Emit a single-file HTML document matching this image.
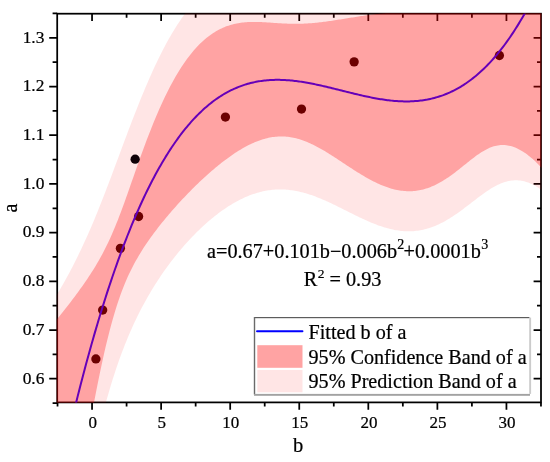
<!DOCTYPE html>
<html><head><meta charset="utf-8"><title>Fit</title>
<style>html,body{margin:0;padding:0;background:#fff;}body{width:550px;height:462px;overflow:hidden;}svg{display:block;}</style>
</head><body>
<svg width="550" height="462" viewBox="0 0 550 462"><defs><clipPath id="c"><rect x="56.70" y="13.30" width="484.70" height="389.50"/></clipPath><clipPath id="c2"><rect x="57.2" y="13.7" width="483.8" height="388.7"/></clipPath></defs><rect width="550" height="462" fill="#fff"/><path d="M92.05,13.7v7.4 M126.58,13.7v4 M161.12,13.7v7.4 M195.65,13.7v4 M230.18,13.7v7.4 M264.71,13.7v4 M299.25,13.7v7.4 M333.78,13.7v4 M368.31,13.7v7.4 M402.84,13.7v4 M437.38,13.7v7.4 M471.91,13.7v4 M506.44,13.7v7.4 M541.0,378.70h-7.4 M541.0,354.35h-4 M541.0,330.00h-7.4 M541.0,305.65h-4 M541.0,281.30h-7.4 M541.0,256.95h-4 M541.0,232.60h-7.4 M541.0,208.25h-4 M541.0,183.90h-7.4 M541.0,159.55h-4 M541.0,135.20h-7.4 M541.0,110.85h-4 M541.0,86.50h-7.4 M541.0,62.15h-4 M541.0,37.80h-7.4" stroke="#000" stroke-width="1.75" fill="none"/><path d="M57.52,402.4v4 M92.05,402.4v7.4 M126.58,402.4v4 M161.12,402.4v7.4 M195.65,402.4v4 M230.18,402.4v7.4 M264.71,402.4v4 M299.25,402.4v7.4 M333.78,402.4v4 M368.31,402.4v7.4 M402.84,402.4v4 M437.38,402.4v7.4 M471.91,402.4v4 M506.44,402.4v7.4 M540.97,402.4v4 M57.2,403.05h-4.6 M57.2,378.70h-8.0 M57.2,354.35h-4.6 M57.2,330.00h-8.0 M57.2,305.65h-4.6 M57.2,281.30h-8.0 M57.2,256.95h-4.6 M57.2,232.60h-8.0 M57.2,208.25h-4.6 M57.2,183.90h-8.0 M57.2,159.55h-4.6 M57.2,135.20h-8.0 M57.2,110.85h-4.6 M57.2,86.50h-8.0 M57.2,62.15h-4.6 M57.2,37.80h-8.0 M57.2,13.45h-4.6" stroke="#000" stroke-width="1.75" fill="none"/><rect x="57.2" y="13.7" width="483.8" height="388.7" fill="none" stroke="#000" stroke-width="1.75"/><g clip-path="url(#c)"><polygon points="55.67,296.69 57.05,294.40 58.43,292.08 59.81,289.73 61.20,287.35 62.58,284.94 63.96,282.50 65.34,280.03 66.72,277.53 68.11,274.99 69.49,272.42 70.87,269.81 72.25,267.16 73.63,264.48 75.02,261.76 76.40,259.00 77.78,256.20 79.16,253.36 80.54,250.48 81.93,247.56 83.31,244.60 84.69,241.59 86.07,238.54 87.45,235.46 88.84,232.32 90.22,229.15 91.60,225.93 92.98,222.68 94.36,219.38 95.75,216.04 97.13,212.67 98.51,209.25 99.89,205.81 101.27,202.32 102.66,198.81 104.04,195.26 105.42,191.69 106.80,188.09 108.18,184.46 109.57,180.82 110.95,177.15 112.33,173.47 113.71,169.78 115.09,166.08 116.48,162.36 117.86,158.65 119.24,154.93 120.62,151.21 122.00,147.50 123.39,143.79 124.77,140.09 126.15,136.41 127.53,132.73 128.91,129.08 130.30,125.45 131.68,121.83 133.06,118.24 134.44,114.68 135.82,111.15 137.21,107.65 138.59,104.18 139.97,100.74 141.35,97.34 142.73,93.98 144.12,90.65 145.50,87.37 146.88,84.13 148.26,80.93 149.64,77.77 151.03,74.66 152.41,71.59 153.79,68.57 155.17,65.60 156.55,62.68 157.94,59.80 159.32,56.98 160.70,54.20 162.08,51.47 163.46,48.79 164.85,46.17 166.23,43.59 167.61,41.06 168.99,38.59 170.37,36.17 171.76,33.79 173.14,31.47 174.52,29.20 175.90,26.98 177.28,24.82 178.67,22.70 180.05,20.63 181.43,18.62 182.81,16.65 184.19,14.73 185.58,12.87 186.96,11.05 188.34,9.28 189.72,7.56 191.10,5.89 192.49,4.26 193.87,2.68 195.25,1.15 196.63,-0.34 198.01,-1.78 199.40,-3.17 200.78,-4.52 202.16,-5.83 203.54,-7.09 204.92,-8.31 206.31,-9.49 207.69,-10.62 209.07,-11.72 210.45,-12.77 211.83,-13.79 213.22,-14.76 214.60,-15.70 215.98,-16.60 217.36,-17.46 218.74,-18.29 220.13,-19.08 221.51,-19.83 222.89,-20.55 224.27,-21.24 225.65,-21.89 227.04,-22.52 228.42,-23.11 229.80,-23.67 231.18,-24.20 232.56,-24.70 233.95,-25.17 235.33,-25.62 236.71,-26.04 238.09,-26.43 239.47,-26.80 240.86,-27.14 242.24,-27.46 243.62,-27.75 245.00,-28.03 246.38,-28.28 247.77,-28.51 249.15,-28.72 250.53,-28.91 251.91,-29.08 253.29,-29.24 254.68,-29.38 256.06,-29.50 257.44,-29.61 258.82,-29.70 260.20,-29.77 261.59,-29.84 262.97,-29.89 264.35,-29.93 265.73,-29.96 267.11,-29.97 268.50,-29.98 269.88,-29.98 271.26,-29.96 272.64,-29.94 274.02,-29.92 275.41,-29.88 276.79,-29.84 278.17,-29.80 279.55,-29.74 280.93,-29.69 282.32,-29.63 283.70,-29.56 285.08,-29.49 286.46,-29.42 287.84,-29.35 289.23,-29.27 290.61,-29.19 291.99,-29.12 293.37,-29.04 294.75,-28.96 296.14,-28.88 297.52,-28.80 298.90,-28.72 300.28,-28.64 301.66,-28.56 303.05,-28.49 304.43,-28.41 305.81,-28.34 307.19,-28.27 308.57,-28.20 309.96,-28.13 311.34,-28.07 312.72,-28.01 314.10,-27.95 315.48,-27.89 316.87,-27.83 318.25,-27.78 319.63,-27.74 321.01,-27.69 322.39,-27.65 323.78,-27.61 325.16,-27.57 326.54,-27.54 327.92,-27.51 329.30,-27.48 330.69,-27.45 332.07,-27.43 333.45,-27.41 334.83,-27.40 336.21,-27.38 337.60,-27.37 338.98,-27.36 340.36,-27.36 341.74,-27.35 343.12,-27.35 344.51,-27.35 345.89,-27.36 347.27,-27.36 348.65,-27.37 350.03,-27.38 351.42,-27.39 352.80,-27.40 354.18,-27.41 355.56,-27.43 356.94,-27.44 358.33,-27.46 359.71,-27.48 361.09,-27.50 362.47,-27.52 363.85,-27.54 365.24,-27.56 366.62,-27.58 368.00,-27.61 369.38,-27.63 370.76,-27.66 372.15,-27.68 373.53,-27.71 374.91,-27.73 376.29,-27.76 377.67,-27.78 379.06,-27.81 380.44,-27.84 381.82,-27.87 383.20,-27.89 384.58,-27.92 385.97,-27.95 387.35,-27.98 388.73,-28.01 390.11,-28.04 391.49,-28.07 392.88,-28.10 394.26,-28.13 395.64,-28.16 397.02,-28.19 398.40,-28.23 399.79,-28.26 401.17,-28.30 402.55,-28.34 403.93,-28.38 405.31,-28.42 406.70,-28.46 408.08,-28.51 409.46,-28.56 410.84,-28.61 412.22,-28.67 413.61,-28.72 414.99,-28.79 416.37,-28.85 417.75,-28.93 419.13,-29.00 420.52,-29.09 421.90,-29.18 423.28,-29.27 424.66,-29.38 426.04,-29.49 427.43,-29.61 428.81,-29.74 430.19,-29.87 431.57,-30.02 432.95,-30.18 434.34,-30.36 435.72,-30.54 437.10,-30.74 438.48,-30.96 439.86,-31.19 441.25,-31.43 442.63,-31.70 444.01,-31.98 445.39,-32.29 446.77,-32.62 448.16,-32.97 449.54,-33.34 450.92,-33.74 452.30,-34.17 453.68,-34.63 455.07,-35.11 456.45,-35.63 457.83,-36.19 459.21,-36.78 460.59,-37.41 461.98,-38.08 463.36,-38.80 464.74,-39.55 466.12,-40.36 467.50,-41.21 468.89,-42.12 470.27,-43.08 471.65,-44.10 473.03,-45.18 474.41,-46.32 475.80,-47.53 477.18,-48.80 478.56,-50.00 479.94,-50.00 481.32,-50.00 482.71,-50.00 484.09,-50.00 485.47,-50.00 486.85,-50.00 488.23,-50.00 489.62,-50.00 491.00,-50.00 492.38,-50.00 493.76,-50.00 495.14,-50.00 496.53,-50.00 497.91,-50.00 499.29,-50.00 500.67,-50.00 502.05,-50.00 503.44,-50.00 504.82,-50.00 506.20,-50.00 507.58,-50.00 508.96,-50.00 510.35,-50.00 511.73,-50.00 513.11,-50.00 514.49,-50.00 515.87,-50.00 517.26,-50.00 518.64,-50.00 520.02,-50.00 521.40,-50.00 522.78,-50.00 524.17,-50.00 525.55,-50.00 526.93,-50.00 528.31,-50.00 529.69,-50.00 531.08,-50.00 532.46,-50.00 533.84,-50.00 535.22,-50.00 536.60,-50.00 537.99,-50.00 539.37,-50.00 540.75,-50.00 542.13,-50.00 542.13,190.42 540.75,189.40 539.37,188.44 537.99,187.52 536.60,186.66 535.22,185.85 533.84,185.09 532.46,184.39 531.08,183.74 529.69,183.15 528.31,182.61 526.93,182.13 525.55,181.70 524.17,181.33 522.78,181.02 521.40,180.76 520.02,180.56 518.64,180.42 517.26,180.33 515.87,180.30 514.49,180.33 513.11,180.42 511.73,180.56 510.35,180.75 508.96,181.00 507.58,181.30 506.20,181.66 504.82,182.06 503.44,182.52 502.05,183.02 500.67,183.58 499.29,184.17 497.91,184.82 496.53,185.50 495.14,186.22 493.76,186.99 492.38,187.79 491.00,188.62 489.62,189.48 488.23,190.38 486.85,191.30 485.47,192.25 484.09,193.22 482.71,194.21 481.32,195.21 479.94,196.24 478.56,197.27 477.18,198.32 475.80,199.38 474.41,200.44 473.03,201.50 471.65,202.57 470.27,203.64 468.89,204.71 467.50,205.77 466.12,206.82 464.74,207.87 463.36,208.91 461.98,209.94 460.59,210.95 459.21,211.95 457.83,212.94 456.45,213.90 455.07,214.85 453.68,215.78 452.30,216.69 450.92,217.58 449.54,218.44 448.16,219.28 446.77,220.10 445.39,220.89 444.01,221.65 442.63,222.39 441.25,223.10 439.86,223.78 438.48,224.44 437.10,225.07 435.72,225.66 434.34,226.23 432.95,226.77 431.57,227.28 430.19,227.75 428.81,228.20 427.43,228.62 426.04,229.01 424.66,229.36 423.28,229.69 421.90,229.99 420.52,230.25 419.13,230.49 417.75,230.69 416.37,230.87 414.99,231.02 413.61,231.13 412.22,231.22 410.84,231.28 409.46,231.31 408.08,231.32 406.70,231.29 405.31,231.24 403.93,231.16 402.55,231.05 401.17,230.92 399.79,230.76 398.40,230.58 397.02,230.37 395.64,230.14 394.26,229.88 392.88,229.60 391.49,229.30 390.11,228.97 388.73,228.62 387.35,228.26 385.97,227.87 384.58,227.46 383.20,227.03 381.82,226.58 380.44,226.12 379.06,225.64 377.67,225.14 376.29,224.62 374.91,224.09 373.53,223.55 372.15,222.99 370.76,222.41 369.38,221.83 368.00,221.23 366.62,220.62 365.24,220.00 363.85,219.37 362.47,218.73 361.09,218.08 359.71,217.42 358.33,216.76 356.94,216.09 355.56,215.41 354.18,214.73 352.80,214.05 351.42,213.36 350.03,212.67 348.65,211.97 347.27,211.28 345.89,210.59 344.51,209.89 343.12,209.20 341.74,208.50 340.36,207.81 338.98,207.13 337.60,206.44 336.21,205.77 334.83,205.09 333.45,204.43 332.07,203.77 330.69,203.11 329.30,202.47 327.92,201.83 326.54,201.21 325.16,200.59 323.78,199.98 322.39,199.39 321.01,198.81 319.63,198.24 318.25,197.68 316.87,197.14 315.48,196.61 314.10,196.09 312.72,195.60 311.34,195.11 309.96,194.65 308.57,194.20 307.19,193.77 305.81,193.36 304.43,192.96 303.05,192.59 301.66,192.23 300.28,191.90 298.90,191.58 297.52,191.29 296.14,191.01 294.75,190.76 293.37,190.53 291.99,190.32 290.61,190.14 289.23,189.97 287.84,189.83 286.46,189.71 285.08,189.62 283.70,189.55 282.32,189.50 280.93,189.47 279.55,189.47 278.17,189.50 276.79,189.55 275.41,189.62 274.02,189.71 272.64,189.83 271.26,189.98 269.88,190.15 268.50,190.34 267.11,190.56 265.73,190.81 264.35,191.07 262.97,191.36 261.59,191.68 260.20,192.02 258.82,192.39 257.44,192.78 256.06,193.19 254.68,193.63 253.29,194.09 251.91,194.57 250.53,195.08 249.15,195.62 247.77,196.17 246.38,196.75 245.00,197.36 243.62,197.98 242.24,198.63 240.86,199.30 239.47,200.00 238.09,200.72 236.71,201.46 235.33,202.22 233.95,203.01 232.56,203.82 231.18,204.65 229.80,205.50 228.42,206.37 227.04,207.27 225.65,208.19 224.27,209.13 222.89,210.09 221.51,211.07 220.13,212.07 218.74,213.10 217.36,214.14 215.98,215.21 214.60,216.30 213.22,217.41 211.83,218.54 210.45,219.69 209.07,220.86 207.69,222.06 206.31,223.27 204.92,224.51 203.54,225.76 202.16,227.04 200.78,228.34 199.40,229.66 198.01,231.00 196.63,232.36 195.25,233.74 193.87,235.15 192.49,236.58 191.10,238.03 189.72,239.50 188.34,240.99 186.96,242.51 185.58,244.05 184.19,245.61 182.81,247.19 181.43,248.80 180.05,250.44 178.67,252.09 177.28,253.78 175.90,255.48 174.52,257.22 173.14,258.98 171.76,260.76 170.37,262.58 168.99,264.42 167.61,266.29 166.23,268.19 164.85,270.12 163.46,272.09 162.08,274.08 160.70,276.11 159.32,278.17 157.94,280.27 156.55,282.40 155.17,284.57 153.79,286.77 152.41,289.02 151.03,291.31 149.64,293.64 148.26,296.01 146.88,298.44 145.50,300.90 144.12,303.42 142.73,305.99 141.35,308.61 139.97,311.29 138.59,314.02 137.21,316.82 135.82,319.67 134.44,322.60 133.06,325.58 131.68,328.64 130.30,331.77 128.91,334.98 127.53,338.27 126.15,341.64 124.77,345.09 123.39,348.63 122.00,352.26 120.62,355.99 119.24,359.82 117.86,363.74 116.48,367.78 115.09,371.92 113.71,376.17 112.33,380.55 110.95,385.04 109.57,389.65 108.18,394.39 106.80,399.26 105.42,404.26 104.04,409.39 102.66,414.67 101.27,420.08 99.89,425.64 98.51,431.35 97.13,437.20 95.75,443.21 94.36,449.36 92.98,455.67 91.60,462.14 90.22,468.76 88.84,475.54 87.45,482.48 86.07,489.58 84.69,496.84 83.31,504.26 81.93,511.84 80.54,519.58 79.16,520.00 77.78,520.00 76.40,520.00 75.02,520.00 73.63,520.00 72.25,520.00 70.87,520.00 69.49,520.00 68.11,520.00 66.72,520.00 65.34,520.00 63.96,520.00 62.58,520.00 61.20,520.00 59.81,520.00 58.43,520.00 57.05,520.00 55.67,520.00" fill="#FF0000" fill-opacity="0.1020"/><polygon points="55.67,320.77 57.05,319.08 58.43,317.39 59.81,315.68 61.20,313.96 62.58,312.24 63.96,310.50 65.34,308.75 66.72,307.00 68.11,305.23 69.49,303.44 70.87,301.65 72.25,299.84 73.63,298.01 75.02,296.17 76.40,294.31 77.78,292.43 79.16,290.54 80.54,288.62 81.93,286.68 83.31,284.72 84.69,282.74 86.07,280.72 87.45,278.68 88.84,276.60 90.22,274.49 91.60,272.35 92.98,270.16 94.36,267.93 95.75,265.66 97.13,263.33 98.51,260.95 99.89,258.51 101.27,256.01 102.66,253.45 104.04,250.81 105.42,248.10 106.80,245.31 108.18,242.44 109.57,239.48 110.95,236.43 112.33,233.30 113.71,230.07 115.09,226.76 116.48,223.36 117.86,219.88 119.24,216.31 120.62,212.68 122.00,208.97 123.39,205.21 124.77,201.40 126.15,197.54 127.53,193.64 128.91,189.72 130.30,185.79 131.68,181.84 133.06,177.89 134.44,173.94 135.82,170.01 137.21,166.09 138.59,162.20 139.97,158.33 141.35,154.50 142.73,150.71 144.12,146.95 145.50,143.24 146.88,139.58 148.26,135.97 149.64,132.41 151.03,128.90 152.41,125.45 153.79,122.05 155.17,118.72 156.55,115.44 157.94,112.22 159.32,109.07 160.70,105.97 162.08,102.94 163.46,99.97 164.85,97.07 166.23,94.22 167.61,91.45 168.99,88.73 170.37,86.07 171.76,83.48 173.14,80.96 174.52,78.49 175.90,76.09 177.28,73.75 178.67,71.47 180.05,69.25 181.43,67.10 182.81,65.00 184.19,62.96 185.58,60.99 186.96,59.07 188.34,57.21 189.72,55.41 191.10,53.67 192.49,51.98 193.87,50.35 195.25,48.77 196.63,47.25 198.01,45.79 199.40,44.37 200.78,43.01 202.16,41.70 203.54,40.45 204.92,39.24 206.31,38.08 207.69,36.97 209.07,35.91 210.45,34.90 211.83,33.93 213.22,33.01 214.60,32.13 215.98,31.30 217.36,30.51 218.74,29.76 220.13,29.06 221.51,28.39 222.89,27.76 224.27,27.17 225.65,26.62 227.04,26.11 228.42,25.63 229.80,25.19 231.18,24.78 232.56,24.40 233.95,24.05 235.33,23.74 236.71,23.45 238.09,23.19 239.47,22.96 240.86,22.76 242.24,22.58 243.62,22.43 245.00,22.29 246.38,22.18 247.77,22.10 249.15,22.03 250.53,21.98 251.91,21.94 253.29,21.93 254.68,21.93 256.06,21.94 257.44,21.97 258.82,22.00 260.20,22.05 261.59,22.11 262.97,22.18 264.35,22.25 265.73,22.33 267.11,22.42 268.50,22.51 269.88,22.60 271.26,22.69 272.64,22.79 274.02,22.88 275.41,22.98 276.79,23.07 278.17,23.16 279.55,23.25 280.93,23.33 282.32,23.41 283.70,23.49 285.08,23.55 286.46,23.61 287.84,23.67 289.23,23.71 290.61,23.75 291.99,23.78 293.37,23.79 294.75,23.80 296.14,23.80 297.52,23.80 298.90,23.78 300.28,23.75 301.66,23.71 303.05,23.66 304.43,23.60 305.81,23.53 307.19,23.45 308.57,23.37 309.96,23.27 311.34,23.16 312.72,23.05 314.10,22.92 315.48,22.79 316.87,22.65 318.25,22.50 319.63,22.35 321.01,22.19 322.39,22.02 323.78,21.84 325.16,21.66 326.54,21.47 327.92,21.28 329.30,21.09 330.69,20.89 332.07,20.68 333.45,20.47 334.83,20.26 336.21,20.05 337.60,19.83 338.98,19.61 340.36,19.39 341.74,19.17 343.12,18.95 344.51,18.73 345.89,18.51 347.27,18.28 348.65,18.06 350.03,17.84 351.42,17.62 352.80,17.40 354.18,17.18 355.56,16.96 356.94,16.75 358.33,16.54 359.71,16.33 361.09,16.12 362.47,15.92 363.85,15.72 365.24,15.52 366.62,15.33 368.00,15.14 369.38,14.95 370.76,14.77 372.15,14.59 373.53,14.42 374.91,14.25 376.29,14.08 377.67,13.92 379.06,13.77 380.44,13.61 381.82,13.47 383.20,13.33 384.58,13.19 385.97,13.06 387.35,12.93 388.73,12.81 390.11,12.69 391.49,12.58 392.88,12.47 394.26,12.37 395.64,12.27 397.02,12.18 398.40,12.09 399.79,12.01 401.17,11.93 402.55,11.85 403.93,11.78 405.31,11.71 406.70,11.64 408.08,11.58 409.46,11.52 410.84,11.46 412.22,11.41 413.61,11.36 414.99,11.31 416.37,11.26 417.75,11.21 419.13,11.16 420.52,11.11 421.90,11.06 423.28,11.01 424.66,10.96 426.04,10.90 427.43,10.84 428.81,10.78 430.19,10.71 431.57,10.64 432.95,10.56 434.34,10.47 435.72,10.38 437.10,10.27 438.48,10.15 439.86,10.02 441.25,9.88 442.63,9.72 444.01,9.55 445.39,9.35 446.77,9.14 448.16,8.91 449.54,8.65 450.92,8.36 452.30,8.05 453.68,7.71 455.07,7.34 456.45,6.92 457.83,6.48 459.21,5.99 460.59,5.45 461.98,4.87 463.36,4.24 464.74,3.56 466.12,2.82 467.50,2.02 468.89,1.16 470.27,0.22 471.65,-0.78 473.03,-1.86 474.41,-3.02 475.80,-4.27 477.18,-5.60 478.56,-7.03 479.94,-8.55 481.32,-10.17 482.71,-11.89 484.09,-13.73 485.47,-15.67 486.85,-17.73 488.23,-19.91 489.62,-22.20 491.00,-24.63 492.38,-27.17 493.76,-29.85 495.14,-32.66 496.53,-35.60 497.91,-38.68 499.29,-41.89 500.67,-45.24 502.05,-48.72 503.44,-50.00 504.82,-50.00 506.20,-50.00 507.58,-50.00 508.96,-50.00 510.35,-50.00 511.73,-50.00 513.11,-50.00 514.49,-50.00 515.87,-50.00 517.26,-50.00 518.64,-50.00 520.02,-50.00 521.40,-50.00 522.78,-50.00 524.17,-50.00 525.55,-50.00 526.93,-50.00 528.31,-50.00 529.69,-50.00 531.08,-50.00 532.46,-50.00 533.84,-50.00 535.22,-50.00 536.60,-50.00 537.99,-50.00 539.37,-50.00 540.75,-50.00 542.13,-50.00 542.13,168.41 540.75,166.92 539.37,165.47 537.99,164.06 536.60,162.69 535.22,161.37 533.84,160.09 532.46,158.85 531.08,157.66 529.69,156.52 528.31,155.42 526.93,154.37 525.55,153.37 524.17,152.43 522.78,151.53 521.40,150.69 520.02,149.90 518.64,149.17 517.26,148.49 515.87,147.87 514.49,147.30 513.11,146.80 511.73,146.36 510.35,145.98 508.96,145.66 507.58,145.40 506.20,145.21 504.82,145.08 503.44,145.01 502.05,145.01 500.67,145.08 499.29,145.21 497.91,145.40 496.53,145.66 495.14,145.98 493.76,146.36 492.38,146.81 491.00,147.31 489.62,147.87 488.23,148.49 486.85,149.16 485.47,149.88 484.09,150.65 482.71,151.47 481.32,152.32 479.94,153.22 478.56,154.16 477.18,155.12 475.80,156.12 474.41,157.14 473.03,158.19 471.65,159.26 470.27,160.34 468.89,161.43 467.50,162.53 466.12,163.64 464.74,164.76 463.36,165.87 461.98,166.98 460.59,168.09 459.21,169.18 457.83,170.27 456.45,171.34 455.07,172.40 453.68,173.45 452.30,174.47 450.92,175.47 449.54,176.45 448.16,177.41 446.77,178.34 445.39,179.25 444.01,180.12 442.63,180.97 441.25,181.79 439.86,182.58 438.48,183.33 437.10,184.05 435.72,184.75 434.34,185.40 432.95,186.03 431.57,186.61 430.19,187.17 428.81,187.69 427.43,188.17 426.04,188.62 424.66,189.03 423.28,189.41 421.90,189.75 420.52,190.06 419.13,190.33 417.75,190.56 416.37,190.76 414.99,190.92 413.61,191.05 412.22,191.15 410.84,191.21 409.46,191.23 408.08,191.23 406.70,191.19 405.31,191.11 403.93,191.01 402.55,190.87 401.17,190.70 399.79,190.49 398.40,190.26 397.02,190.00 395.64,189.70 394.26,189.38 392.88,189.03 391.49,188.65 390.11,188.24 388.73,187.81 387.35,187.35 385.97,186.86 384.58,186.35 383.20,185.81 381.82,185.25 380.44,184.67 379.06,184.06 377.67,183.43 376.29,182.78 374.91,182.11 373.53,181.42 372.15,180.72 370.76,179.99 369.38,179.25 368.00,178.49 366.62,177.71 365.24,176.92 363.85,176.11 362.47,175.29 361.09,174.46 359.71,173.62 358.33,172.76 356.94,171.90 355.56,171.02 354.18,170.14 352.80,169.25 351.42,168.36 350.03,167.45 348.65,166.55 347.27,165.64 345.89,164.72 344.51,163.81 343.12,162.89 341.74,161.98 340.36,161.06 338.98,160.15 337.60,159.24 336.21,158.33 334.83,157.43 333.45,156.54 332.07,155.65 330.69,154.77 329.30,153.90 327.92,153.04 326.54,152.19 325.16,151.36 323.78,150.53 322.39,149.72 321.01,148.93 319.63,148.15 318.25,147.39 316.87,146.65 315.48,145.93 314.10,145.22 312.72,144.54 311.34,143.88 309.96,143.25 308.57,142.64 307.19,142.05 305.81,141.49 304.43,140.95 303.05,140.44 301.66,139.96 300.28,139.51 298.90,139.09 297.52,138.69 296.14,138.33 294.75,138.00 293.37,137.70 291.99,137.43 290.61,137.19 289.23,136.99 287.84,136.82 286.46,136.68 285.08,136.57 283.70,136.50 282.32,136.46 280.93,136.45 279.55,136.48 278.17,136.54 276.79,136.63 275.41,136.75 274.02,136.91 272.64,137.10 271.26,137.32 269.88,137.57 268.50,137.86 267.11,138.17 265.73,138.52 264.35,138.89 262.97,139.30 261.59,139.73 260.20,140.20 258.82,140.69 257.44,141.20 256.06,141.75 254.68,142.32 253.29,142.92 251.91,143.55 250.53,144.20 249.15,144.87 247.77,145.57 246.38,146.29 245.00,147.04 243.62,147.80 242.24,148.60 240.86,149.41 239.47,150.24 238.09,151.10 236.71,151.97 235.33,152.87 233.95,153.78 232.56,154.72 231.18,155.67 229.80,156.64 228.42,157.64 227.04,158.64 225.65,159.67 224.27,160.71 222.89,161.77 221.51,162.85 220.13,163.94 218.74,165.05 217.36,166.17 215.98,167.31 214.60,168.47 213.22,169.64 211.83,170.82 210.45,172.02 209.07,173.23 207.69,174.46 206.31,175.70 204.92,176.96 203.54,178.23 202.16,179.51 200.78,180.81 199.40,182.11 198.01,183.44 196.63,184.77 195.25,186.12 193.87,187.48 192.49,188.86 191.10,190.24 189.72,191.64 188.34,193.06 186.96,194.48 185.58,195.92 184.19,197.38 182.81,198.84 181.43,200.32 180.05,201.82 178.67,203.32 177.28,204.84 175.90,206.38 174.52,207.93 173.14,209.49 171.76,211.07 170.37,212.67 168.99,214.28 167.61,215.91 166.23,217.56 164.85,219.22 163.46,220.91 162.08,222.61 160.70,224.33 159.32,226.08 157.94,227.84 156.55,229.64 155.17,231.45 153.79,233.30 152.41,235.17 151.03,237.07 149.64,239.01 148.26,240.98 146.88,242.98 145.50,245.03 144.12,247.12 142.73,249.26 141.35,251.45 139.97,253.70 138.59,256.00 137.21,258.38 135.82,260.82 134.44,263.34 133.06,265.94 131.68,268.64 130.30,271.43 128.91,274.34 127.53,277.36 126.15,280.50 124.77,283.78 123.39,287.21 122.00,290.78 120.62,294.52 119.24,298.43 117.86,302.51 116.48,306.78 115.09,311.24 113.71,315.88 112.33,320.72 110.95,325.76 109.57,330.99 108.18,336.42 106.80,342.04 105.42,347.85 104.04,353.84 102.66,360.03 101.27,366.39 99.89,372.94 98.51,379.65 97.13,386.54 95.75,393.59 94.36,400.81 92.98,408.19 91.60,415.72 90.22,423.41 88.84,431.26 87.45,439.26 86.07,447.40 84.69,455.69 83.31,464.13 81.93,472.72 80.54,481.44 79.16,490.31 77.78,499.32 76.40,508.48 75.02,517.77 73.63,520.00 72.25,520.00 70.87,520.00 69.49,520.00 68.11,520.00 66.72,520.00 65.34,520.00 63.96,520.00 62.58,520.00 61.20,520.00 59.81,520.00 58.43,520.00 57.05,520.00 55.67,520.00" fill="#FF0000" fill-opacity="0.2882"/></g><g clip-path="url(#c2)"><circle cx="95.88" cy="358.94" r="4.65" fill="#6C0000"/><circle cx="102.66" cy="310.03" r="4.65" fill="#6C0000"/><circle cx="120.40" cy="248.34" r="4.65" fill="#6C0000"/><circle cx="135.15" cy="159.17" r="4.65" fill="#100006"/><circle cx="138.60" cy="216.48" r="4.65" fill="#6C0000"/><circle cx="225.41" cy="117.06" r="4.65" fill="#6C0000"/><circle cx="301.50" cy="109.05" r="4.65" fill="#6C0000"/><circle cx="354.15" cy="61.84" r="4.65" fill="#6C0000"/><circle cx="499.40" cy="55.52" r="4.65" fill="#6C0000"/><polyline points="55.67,491.65 57.05,485.18 58.43,478.78 59.81,472.44 61.20,466.17 62.58,459.97 63.96,453.82 65.34,447.75 66.72,441.73 68.11,435.78 69.49,429.89 70.87,424.07 72.25,418.31 73.63,412.61 75.02,406.97 76.40,401.39 77.78,395.88 79.16,390.43 80.54,385.03 81.93,379.70 83.31,374.43 84.69,369.21 86.07,364.06 87.45,358.97 88.84,353.93 90.22,348.95 91.60,344.04 92.98,339.17 94.36,334.37 95.75,329.62 97.13,324.93 98.51,320.30 99.89,315.72 101.27,311.20 102.66,306.74 104.04,302.33 105.42,297.97 106.80,293.67 108.18,289.43 109.57,285.23 110.95,281.09 112.33,277.01 113.71,272.98 115.09,269.00 116.48,265.07 117.86,261.20 119.24,257.37 120.62,253.60 122.00,249.88 123.39,246.21 124.77,242.59 126.15,239.02 127.53,235.50 128.91,232.03 130.30,228.61 131.68,225.24 133.06,221.91 134.44,218.64 135.82,215.41 137.21,212.23 138.59,209.10 139.97,206.02 141.35,202.98 142.73,199.98 144.12,197.04 145.50,194.14 146.88,191.28 148.26,188.47 149.64,185.71 151.03,182.98 152.41,180.31 153.79,177.67 155.17,175.08 156.55,172.54 157.94,170.03 159.32,167.57 160.70,165.15 162.08,162.78 163.46,160.44 164.85,158.15 166.23,155.89 167.61,153.68 168.99,151.51 170.37,149.37 171.76,147.28 173.14,145.23 174.52,143.21 175.90,141.23 177.28,139.30 178.67,137.40 180.05,135.53 181.43,133.71 182.81,131.92 184.19,130.17 185.58,128.46 186.96,126.78 188.34,125.13 189.72,123.53 191.10,121.96 192.49,120.42 193.87,118.92 195.25,117.45 196.63,116.01 198.01,114.61 199.40,113.24 200.78,111.91 202.16,110.61 203.54,109.34 204.92,108.10 206.31,106.89 207.69,105.72 209.07,104.57 210.45,103.46 211.83,102.38 213.22,101.32 214.60,100.30 215.98,99.31 217.36,98.34 218.74,97.41 220.13,96.50 221.51,95.62 222.89,94.77 224.27,93.94 225.65,93.15 227.04,92.38 228.42,91.63 229.80,90.92 231.18,90.22 232.56,89.56 233.95,88.92 235.33,88.30 236.71,87.71 238.09,87.14 239.47,86.60 240.86,86.08 242.24,85.59 243.62,85.11 245.00,84.67 246.38,84.24 247.77,83.83 249.15,83.45 250.53,83.09 251.91,82.75 253.29,82.42 254.68,82.12 256.06,81.85 257.44,81.59 258.82,81.35 260.20,81.12 261.59,80.92 262.97,80.74 264.35,80.57 265.73,80.43 267.11,80.30 268.50,80.18 269.88,80.09 271.26,80.01 272.64,79.95 274.02,79.90 275.41,79.87 276.79,79.85 278.17,79.85 279.55,79.87 280.93,79.89 282.32,79.94 283.70,79.99 285.08,80.06 286.46,80.15 287.84,80.24 289.23,80.35 290.61,80.47 291.99,80.60 293.37,80.75 294.75,80.90 296.14,81.07 297.52,81.24 298.90,81.43 300.28,81.63 301.66,81.83 303.05,82.05 304.43,82.28 305.81,82.51 307.19,82.75 308.57,83.00 309.96,83.26 311.34,83.52 312.72,83.79 314.10,84.07 315.48,84.36 316.87,84.65 318.25,84.95 319.63,85.25 321.01,85.56 322.39,85.87 323.78,86.19 325.16,86.51 326.54,86.83 327.92,87.16 329.30,87.49 330.69,87.83 332.07,88.17 333.45,88.51 334.83,88.85 336.21,89.19 337.60,89.54 338.98,89.88 340.36,90.23 341.74,90.58 343.12,90.92 344.51,91.27 345.89,91.61 347.27,91.96 348.65,92.30 350.03,92.65 351.42,92.99 352.80,93.32 354.18,93.66 355.56,93.99 356.94,94.32 358.33,94.65 359.71,94.97 361.09,95.29 362.47,95.61 363.85,95.91 365.24,96.22 366.62,96.52 368.00,96.81 369.38,97.10 370.76,97.38 372.15,97.65 373.53,97.92 374.91,98.18 376.29,98.43 377.67,98.68 379.06,98.91 380.44,99.14 381.82,99.36 383.20,99.57 384.58,99.77 385.97,99.96 387.35,100.14 388.73,100.31 390.11,100.47 391.49,100.62 392.88,100.75 394.26,100.88 395.64,100.99 397.02,101.09 398.40,101.18 399.79,101.25 401.17,101.31 402.55,101.36 403.93,101.39 405.31,101.41 406.70,101.41 408.08,101.40 409.46,101.38 410.84,101.34 412.22,101.28 413.61,101.21 414.99,101.12 416.37,101.01 417.75,100.88 419.13,100.74 420.52,100.58 421.90,100.40 423.28,100.21 424.66,99.99 426.04,99.76 427.43,99.51 428.81,99.23 430.19,98.94 431.57,98.63 432.95,98.29 434.34,97.94 435.72,97.56 437.10,97.16 438.48,96.74 439.86,96.30 441.25,95.83 442.63,95.35 444.01,94.83 445.39,94.30 446.77,93.74 448.16,93.16 449.54,92.55 450.92,91.92 452.30,91.26 453.68,90.58 455.07,89.87 456.45,89.13 457.83,88.37 459.21,87.59 460.59,86.77 461.98,85.93 463.36,85.06 464.74,84.16 466.12,83.23 467.50,82.28 468.89,81.29 470.27,80.28 471.65,79.24 473.03,78.16 474.41,77.06 475.80,75.93 477.18,74.76 478.56,73.56 479.94,72.34 481.32,71.08 482.71,69.79 484.09,68.46 485.47,67.10 486.85,65.71 488.23,64.29 489.62,62.83 491.00,61.34 492.38,59.82 493.76,58.26 495.14,56.66 496.53,55.03 497.91,53.36 499.29,51.66 500.67,49.92 502.05,48.14 503.44,46.33 504.82,44.48 506.20,42.59 507.58,40.67 508.96,38.71 510.35,36.70 511.73,34.66 513.11,32.58 514.49,30.46 515.87,28.30 517.26,26.10 518.64,23.86 520.02,21.58 521.40,19.26 522.78,16.89 524.17,14.49 525.55,12.04 526.93,9.55 528.31,7.02 529.69,4.44 531.08,1.82 532.46,-0.84 533.84,-3.55 535.22,-6.30 536.60,-9.09 537.99,-11.93 539.37,-14.82 540.75,-17.75 542.13,-20.73" fill="none" stroke="#6600B8" stroke-width="2" stroke-linejoin="round"/></g><text x="44.4" y="383.50" text-anchor="end" font-size="17.4" font-family="Liberation Serif, Times New Roman, serif" stroke="#000" stroke-width="0.22">0.6</text><text x="44.4" y="334.80" text-anchor="end" font-size="17.4" font-family="Liberation Serif, Times New Roman, serif" stroke="#000" stroke-width="0.22">0.7</text><text x="44.4" y="286.10" text-anchor="end" font-size="17.4" font-family="Liberation Serif, Times New Roman, serif" stroke="#000" stroke-width="0.22">0.8</text><text x="44.4" y="237.40" text-anchor="end" font-size="17.4" font-family="Liberation Serif, Times New Roman, serif" stroke="#000" stroke-width="0.22">0.9</text><text x="44.4" y="188.70" text-anchor="end" font-size="17.4" font-family="Liberation Serif, Times New Roman, serif" stroke="#000" stroke-width="0.22">1.0</text><text x="44.4" y="140.00" text-anchor="end" font-size="17.4" font-family="Liberation Serif, Times New Roman, serif" stroke="#000" stroke-width="0.22">1.1</text><text x="44.4" y="91.30" text-anchor="end" font-size="17.4" font-family="Liberation Serif, Times New Roman, serif" stroke="#000" stroke-width="0.22">1.2</text><text x="44.4" y="42.60" text-anchor="end" font-size="17.4" font-family="Liberation Serif, Times New Roman, serif" stroke="#000" stroke-width="0.22">1.3</text><text x="92.65" y="428.2" text-anchor="middle" font-size="17" font-family="Liberation Serif, Times New Roman, serif" stroke="#000" stroke-width="0.22">0</text><text x="161.72" y="428.2" text-anchor="middle" font-size="17" font-family="Liberation Serif, Times New Roman, serif" stroke="#000" stroke-width="0.22">5</text><text x="230.78" y="428.2" text-anchor="middle" font-size="17" font-family="Liberation Serif, Times New Roman, serif" stroke="#000" stroke-width="0.22">10</text><text x="299.85" y="428.2" text-anchor="middle" font-size="17" font-family="Liberation Serif, Times New Roman, serif" stroke="#000" stroke-width="0.22">15</text><text x="368.91" y="428.2" text-anchor="middle" font-size="17" font-family="Liberation Serif, Times New Roman, serif" stroke="#000" stroke-width="0.22">20</text><text x="437.98" y="428.2" text-anchor="middle" font-size="17" font-family="Liberation Serif, Times New Roman, serif" stroke="#000" stroke-width="0.22">25</text><text x="507.04" y="428.2" text-anchor="middle" font-size="17" font-family="Liberation Serif, Times New Roman, serif" stroke="#000" stroke-width="0.22">30</text><text x="298.2" y="451.5" text-anchor="middle" font-size="20.5" font-family="Liberation Serif, Times New Roman, serif" stroke="#000" stroke-width="0.22">b</text><text transform="translate(16.9,208) rotate(-90)" text-anchor="middle" font-size="20" font-family="Liberation Serif, Times New Roman, serif" stroke="#000" stroke-width="0.22">a</text><text x="207.0" y="258.4" font-size="20.25" font-family="Liberation Serif, Times New Roman, serif" stroke="#000" stroke-width="0.22">a=0.67+0.101b&#8722;0.006b<tspan font-size="14" dy="-9" dx="0.3">2</tspan><tspan dy="9" dx="-0.8">+0.0001b</tspan><tspan font-size="14" dy="-9" dx="0.5">3</tspan></text><text x="303.8" y="285.8" font-size="20.25" font-family="Liberation Serif, Times New Roman, serif" stroke="#000" stroke-width="0.22">R<tspan font-size="13.5" dy="-7.6" dx="0.5">2</tspan><tspan dy="7.6" dx="-0.1"> = 0.93</tspan></text><rect x="254" y="317" width="276" height="78" fill="#fff"/><rect x="254" y="317" width="275.5" height="1.2" fill="#5c5c5c"/><rect x="253.8" y="317" width="1.4" height="77.5" fill="#6a6a6a"/><rect x="254" y="393.9" width="276" height="1.9" fill="#a2a2a2"/><rect x="529.2" y="317.6" width="1.9" height="76.3" fill="#cbcbcb"/><line x1="257" y1="331.3" x2="302.5" y2="331.3" stroke="#0000FF" stroke-width="1.9" stroke-linecap="round"/><rect x="257.3" y="345.2" width="45.2" height="22.6" fill="#FFA3A3"/><rect x="257.3" y="370" width="45.2" height="22.3" fill="#FFE5E5"/><text x="308.5" y="339" font-size="20.15" font-family="Liberation Serif, Times New Roman, serif" stroke="#000" stroke-width="0.22">Fitted b of a</text><text x="308.5" y="364.3" font-size="20.15" font-family="Liberation Serif, Times New Roman, serif" stroke="#000" stroke-width="0.22">95% Confidence Band of a</text><text x="308.5" y="388.2" font-size="20.15" font-family="Liberation Serif, Times New Roman, serif" stroke="#000" stroke-width="0.22">95% Prediction Band of a</text></svg>
</body></html>
